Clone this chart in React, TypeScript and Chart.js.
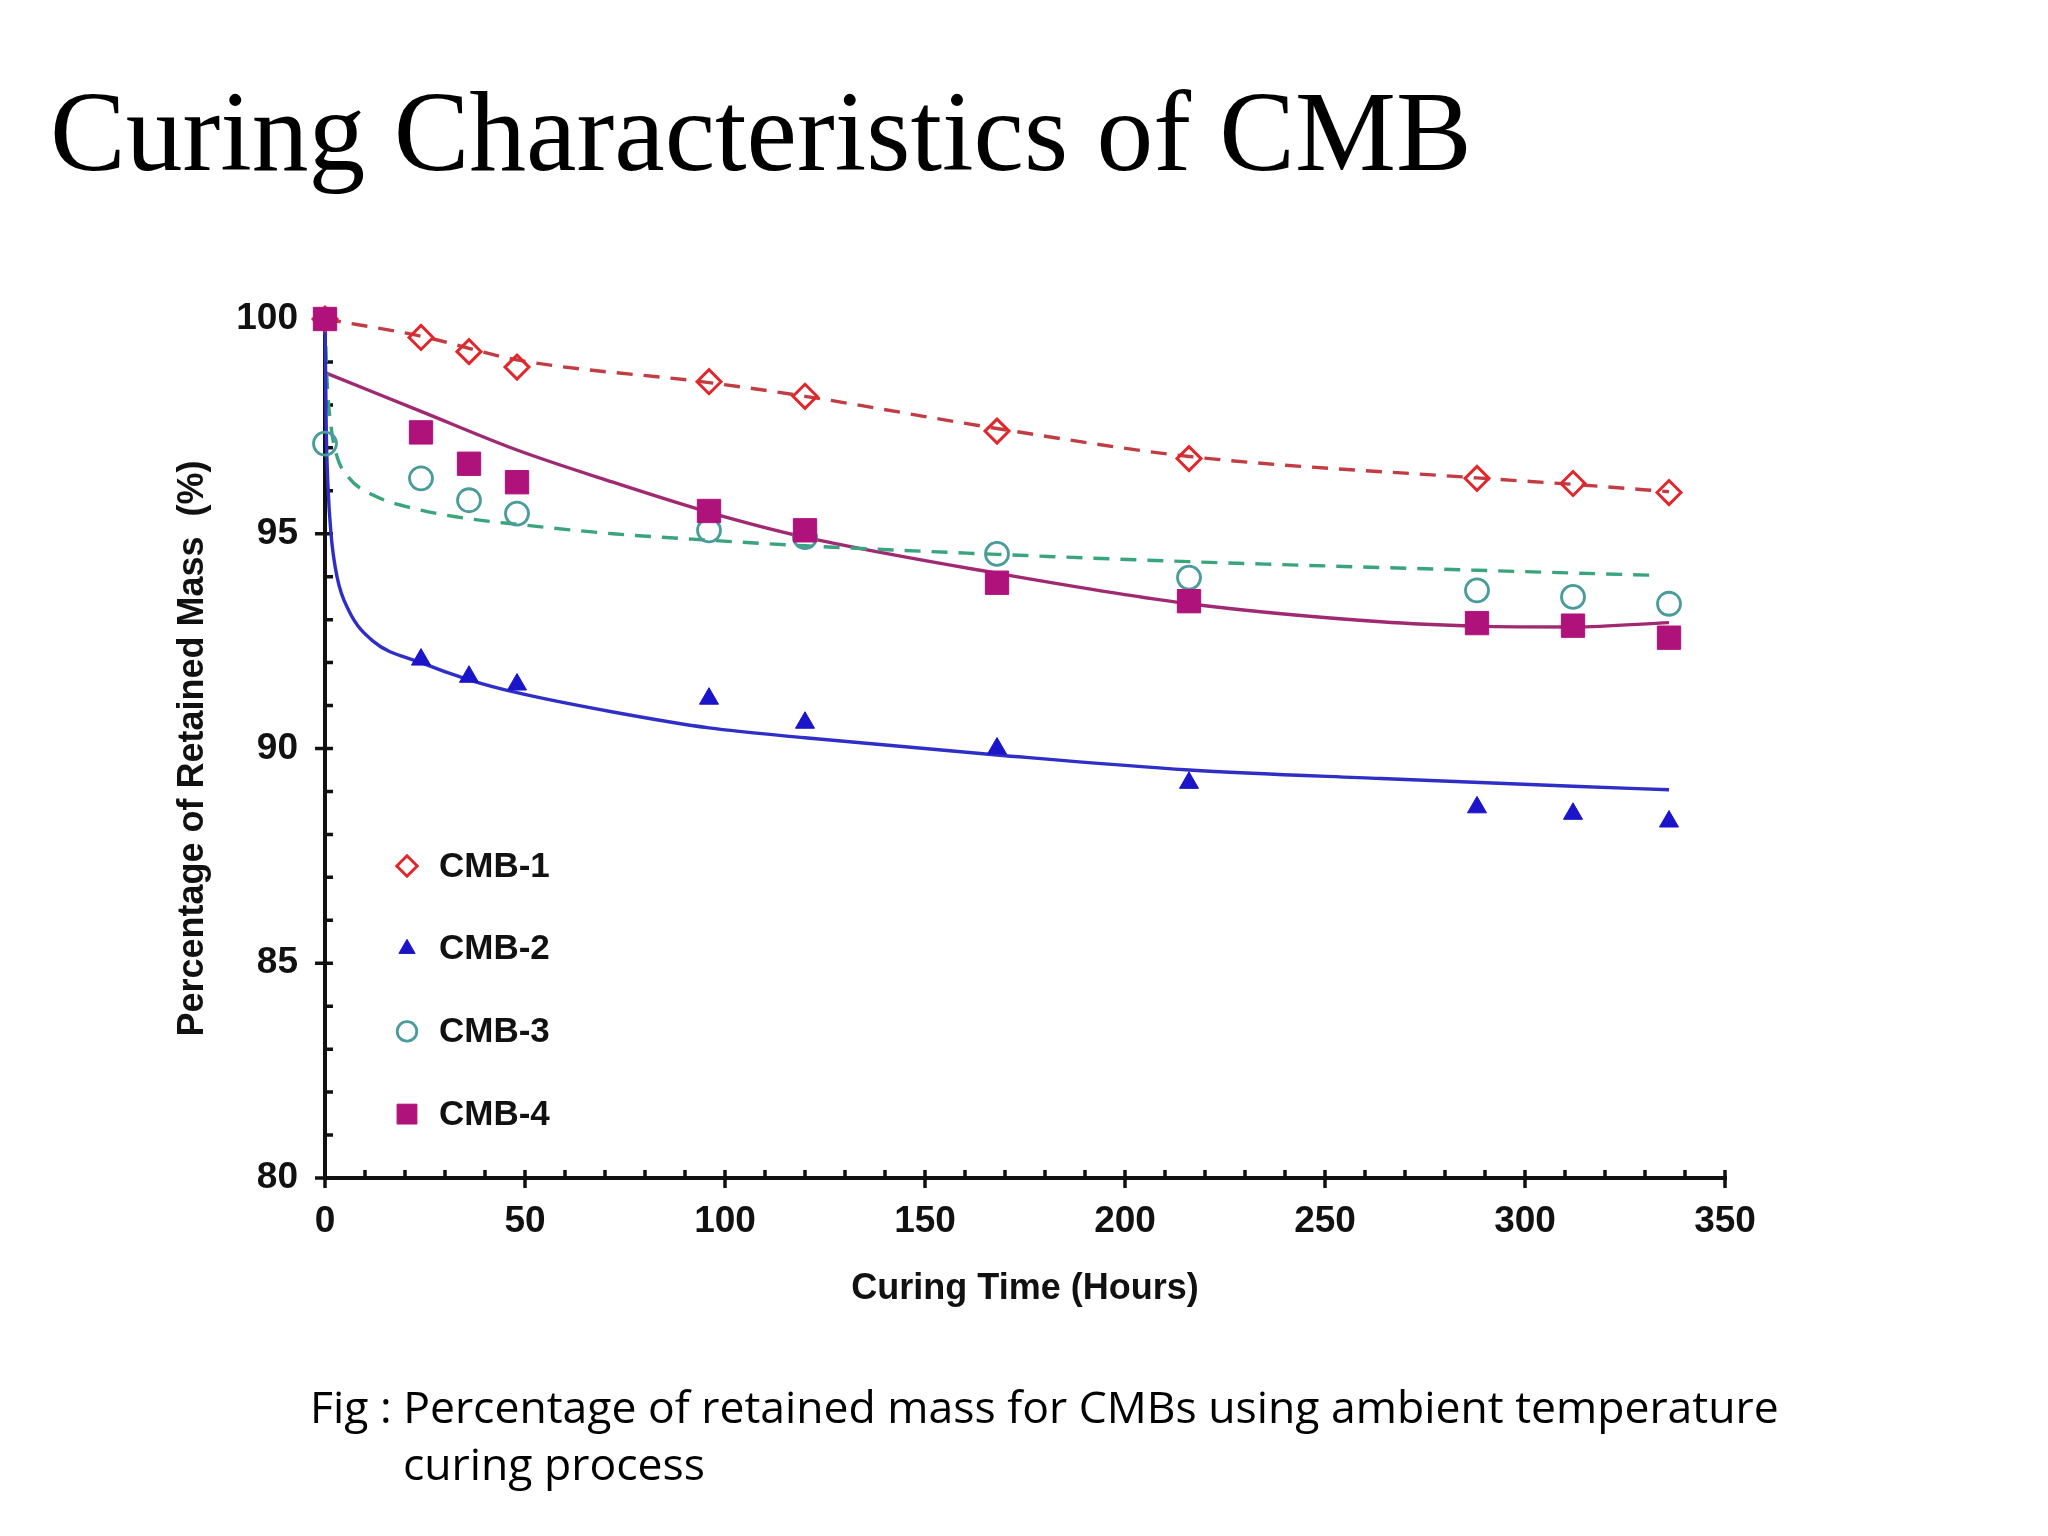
import React, { useEffect, useRef } from "react";
import { Chart, registerables } from "chart.js";
import { drawPoint } from "chart.js/helpers";

Chart.register(...registerables);

// Measured curing times (hours)
const hours = [0, 24, 36, 48, 96, 120, 168, 216, 288, 312, 336];

// Retained mass (%) per mix
const cmb1 = [100, 99.57, 99.24, 98.88, 98.54, 98.2, 97.39, 96.75, 96.29, 96.17, 95.96];
const cmb2 = [100, 92.07, 91.67, 91.49, 91.16, 90.6, 90.0, 89.2, 88.63, 88.48, 88.3];
const cmb3 = [97.1, 96.29, 95.78, 95.47, 95.08, 94.92, 94.53, 93.98, 93.68, 93.53, 93.37];
const cmb4 = [100, 97.36, 96.63, 96.2, 95.53, 95.08, 93.86, 93.43, 92.92, 92.86, 92.58];

// Trend curves
const fitHours1 = [0, 24, 48, 96, 120, 168, 216, 288, 312, 336];
const fit1 = [100, 99.6, 99.05, 98.52, 98.2, 97.45, 96.8, 96.3, 96.15, 95.98];

const fitHours2 = [0, 0.3, 0.7, 1.5, 3, 6, 12, 24, 36, 48, 72, 96, 120, 168, 216, 264, 312, 336];
const fit2 = [100, 97.5, 96.2, 95.0, 94.0, 93.2, 92.5, 92.0, 91.6, 91.3, 90.85, 90.48, 90.25, 89.85, 89.5, 89.3, 89.12, 89.04];

const fitHours3 = [0, 0.5, 1.5, 3, 6, 12, 24, 36, 48, 72, 96, 120, 168, 216, 288, 333];
const fit3 = [100, 98.6, 97.5, 96.8, 96.3, 95.9, 95.55, 95.35, 95.22, 95.0, 94.85, 94.72, 94.52, 94.35, 94.15, 94.03];

const fitHours4 = [0, 24, 48, 72, 96, 120, 168, 216, 264, 288, 312, 336];
const fit4 = [98.75, 97.85, 96.95, 96.2, 95.5, 94.92, 94.08, 93.37, 92.95, 92.85, 92.83, 92.93];

const seriesNames = ["CMB-1", "CMB-2", "CMB-3", "CMB-4"];

// Axis settings
const xMin = 0, xMax = 350, xMajor = 50, xMinor = 10;
const yMin = 80, yMax = 100, yMajor = 5, yMinor = 1;
const xTitle = "Curing Time (Hours)";
const yTitle = "Percentage of Retained Mass  (%)";

const RED = "#e3262a";
const RED_LINE = "#c23c44";
const BLUE = "#1c14c8";
const BLUE_LINE = "#2f2fc8";
const TEAL = "#4a9c9c";
const TEAL_LINE = "#3aa47c";
const MAGENTA = "#b0127c";
const MAGENTA_LINE = "#a02a72";

const AXIS_FONT = "'Liberation Sans', Arial, sans-serif";

const pts = (xs: number[], ys: number[]) => xs.map((x, i) => ({ x, y: ys[i] }));

const markerStyles = [
  { pointStyle: "rectRot", radius: 12, fill: "rgba(0,0,0,0)", stroke: RED, width: 3 },
  { pointStyle: "triangle", radius: 11, fill: BLUE, stroke: BLUE, width: 1 },
  { pointStyle: "circle", radius: 11.5, fill: "rgba(0,0,0,0)", stroke: TEAL, width: 2.8 },
  { pointStyle: "rect", radius: 16.5, fill: MAGENTA, stroke: MAGENTA, width: 1 },
];

// Axis lines with crossing major ticks and inward minor ticks
const axesPlugin = {
  id: "axesTicks",
  beforeDatasetsDraw(chart: any) {
    const { ctx, chartArea: a, scales } = chart;
    const xs = scales.x;
    const ys = scales.y;
    ctx.save();
    ctx.strokeStyle = "#111";
    ctx.lineCap = "butt";
    ctx.lineWidth = 4;
    ctx.beginPath();
    ctx.moveTo(a.left, a.top);
    ctx.lineTo(a.left, a.bottom);
    ctx.lineTo(a.right + 2, a.bottom);
    ctx.stroke();
    ctx.lineWidth = 3.5;
    ctx.beginPath();
    for (let v = xMin; v <= xMax; v += xMinor) {
      const px = xs.getPixelForValue(v);
      const major = v % xMajor === 0;
      ctx.moveTo(px, a.bottom - 8);
      ctx.lineTo(px, a.bottom + (major ? 10 : 0));
    }
    for (let v = yMin; v <= yMax; v += yMinor) {
      const py = ys.getPixelForValue(v);
      const major = v % yMajor === 0;
      ctx.moveTo(a.left - (major ? 10 : 0), py);
      ctx.lineTo(a.left + 8, py);
    }
    ctx.stroke();
    ctx.restore();
  },
};

// Legend inside the plot area, lower left
const legendPlugin = {
  id: "insideLegend",
  afterDraw(chart: any) {
    const { ctx, chartArea: a } = chart;
    ctx.save();
    seriesNames.forEach((name, i) => {
      const m = markerStyles[i];
      const cx = a.left + 82;
      const cy = a.top + 547 + i * 82.7;
      ctx.fillStyle = m.fill;
      ctx.strokeStyle = m.stroke;
      ctx.lineWidth = m.width;
      drawPoint(ctx, { pointStyle: m.pointStyle, radius: m.radius * 0.85, rotation: 0, borderWidth: m.width } as any, cx, cy);
      ctx.fillStyle = "#111";
      ctx.font = `bold 35px ${AXIS_FONT}`;
      ctx.textBaseline = "middle";
      ctx.textAlign = "left";
      ctx.fillText(name, a.left + 114, cy + 1);
    });
    ctx.restore();
  },
};

export default function App() {
  const ref = useRef<HTMLCanvasElement>(null);

  useEffect(() => {
    const canvas = ref.current;
    if (!canvas) return;
    const raw = [cmb1, cmb2, cmb3, cmb4];
    const markerSets = raw.map((vals, i) => {
      const m = markerStyles[i];
      return {
        label: seriesNames[i],
        data: pts(hours, vals),
        showLine: false,
        pointStyle: m.pointStyle,
        pointRadius: m.radius,
        pointBackgroundColor: m.fill,
        pointBorderColor: m.stroke,
        pointBorderWidth: m.width,
        clip: false,
        order: [1, 2, 3, 0][i],
      };
    });
    const lineSets = [
      { data: pts(fitHours1, fit1), borderColor: RED_LINE, borderDash: [16, 11] },
      { data: pts(fitHours2, fit2), borderColor: BLUE_LINE, borderDash: [] },
      { data: pts(fitHours3, fit3), borderColor: TEAL_LINE, borderDash: [16, 11] },
      { data: pts(fitHours4, fit4), borderColor: MAGENTA_LINE, borderDash: [] },
    ].map((d, i) => ({
      label: seriesNames[i] + " fit",
      ...d,
      showLine: true,
      pointRadius: 0,
      borderWidth: 3.4,
      cubicInterpolationMode: "monotone",
      clip: false,
      order: 10 + i,
    }));

    const tickFont = { family: AXIS_FONT, size: 37, weight: "bold" };
    const titleFont = { family: AXIS_FONT, size: 36, weight: "bold" };

    const chart = new Chart(canvas, {
      type: "scatter",
      data: { datasets: [...markerSets, ...lineSets] as any },
      options: {
        animation: false,
        responsive: false,
        maintainAspectRatio: false,
        devicePixelRatio: 1,
        layout: { padding: { left: 0, top: 319, right: 323, bottom: 225 } },
        plugins: { legend: { display: false }, tooltip: { enabled: false } },
        scales: {
          x: {
            type: "linear",
            min: xMin,
            max: xMax,
            ticks: { stepSize: xMajor, font: tickFont as any, color: "#111", padding: 22, maxRotation: 0 },
            grid: { display: false, drawTicks: false },
            border: { display: false },
            title: { display: true, text: xTitle, font: titleFont as any, color: "#111", padding: 0 },
            afterFit: (s: any) => {
              s.height = 133;
            },
          },
          y: {
            type: "linear",
            min: yMin,
            max: yMax,
            ticks: { stepSize: yMajor, font: tickFont as any, color: "#111", padding: 27 },
            grid: { display: false, drawTicks: false },
            border: { display: false },
            title: { display: true, text: yTitle, font: titleFont as any, color: "#111", padding: { top: 171, bottom: 0 } },
            afterFit: (s: any) => {
              s.width = 325;
            },
          },
        },
      } as any,
      plugins: [axesPlugin, legendPlugin],
    });
    return () => chart.destroy();
  }, []);

  const captionStyle: React.CSSProperties = {
    position: "absolute",
    fontFamily: "'Open Sans', Lato, sans-serif",
    fontSize: 44.5,
    lineHeight: 1,
    whiteSpace: "nowrap",
    color: "#000",
  };

  return (
    <div style={{ position: "absolute", left: 0, top: 0, width: 2048, height: 1536, background: "#fff", overflow: "hidden" }}>
      <div
        style={{
          position: "absolute",
          left: 50,
          top: 76,
          fontFamily: "'Liberation Serif', 'Times New Roman', serif",
          fontSize: 113.5,
          lineHeight: 1,
          whiteSpace: "nowrap",
          color: "#000",
        }}
      >
        Curing Characteristics of CMB
      </div>
      <canvas ref={ref} width={2048} height={1536} style={{ position: "absolute", left: 0, top: 0, width: 2048, height: 1536 }} />
      <div style={{ ...captionStyle, left: 310, top: 1384 }}>
        Fig : Percentage of retained mass for CMBs using ambient temperature
      </div>
      <div style={{ ...captionStyle, left: 403, top: 1441 }}>curing process</div>
    </div>
  );
}
